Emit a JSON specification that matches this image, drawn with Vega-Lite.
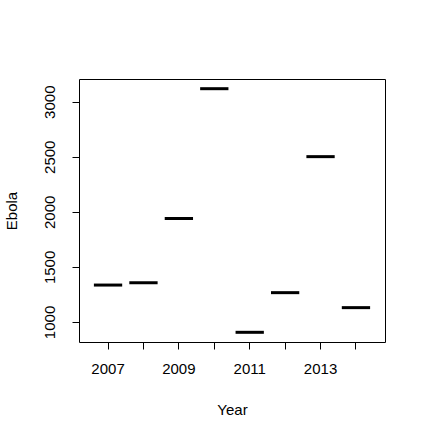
{
  "$schema": "https://vega.github.io/schema/vega-lite/v6.json",
  "autosize": "none",
  "width": 306,
  "height": 263,
  "padding": {"left": 79, "top": 79, "right": 40, "bottom": 98},
  "background": "white",
  "config": {
    "view": {"stroke": "#000", "strokeWidth": 1},
    "font": "Liberation Sans",
    "axis": {
      "domain": false,
      "grid": false,
      "tickColor": "#000",
      "tickSize": 7,
      "tickWidth": 1,
      "labelFont": "Liberation Sans",
      "labelFontSize": 15,
      "labelColor": "#000",
      "titleFont": "Liberation Sans",
      "titleFontSize": 15,
      "titleFontWeight": "normal",
      "titleColor": "#000"
    }
  },
  "data": {
    "values": [
      {"Year": "2007", "Ebola": 1335},
      {"Year": "2008", "Ebola": 1356},
      {"Year": "2009", "Ebola": 1940},
      {"Year": "2010", "Ebola": 3118},
      {"Year": "2011", "Ebola": 906},
      {"Year": "2012", "Ebola": 1266},
      {"Year": "2013", "Ebola": 2501},
      {"Year": "2014", "Ebola": 1130}
    ]
  },
  "mark": {"type": "tick", "orient": "horizontal", "color": "#000", "thickness": 3, "size": 28.3, "opacity": 1},
  "encoding": {
    "x": {
      "field": "Year",
      "type": "ordinal",
      "scale": {"type": "band", "paddingInner": 0.2, "paddingOuter": 0.42},
      "axis": {
        "title": "Year",
        "labelAngle": 0,
        "labelPadding": 12,
        "titlePadding": 26,
        "labelExpr": "toNumber(datum.value) % 2 == 1 ? datum.label : ''"
      }
    },
    "y": {
      "field": "Ebola",
      "type": "quantitative",
      "scale": {"domain": [818, 3206], "nice": false, "zero": false},
      "axis": {
        "title": "Ebola",
        "format": "d",
        "values": [1000, 1500, 2000, 2500, 3000],
        "labelAngle": 270,
        "labelAlign": "center",
        "labelBaseline": "bottom",
        "labelPadding": 15,
        "titlePadding": 23
      }
    }
  }
}
